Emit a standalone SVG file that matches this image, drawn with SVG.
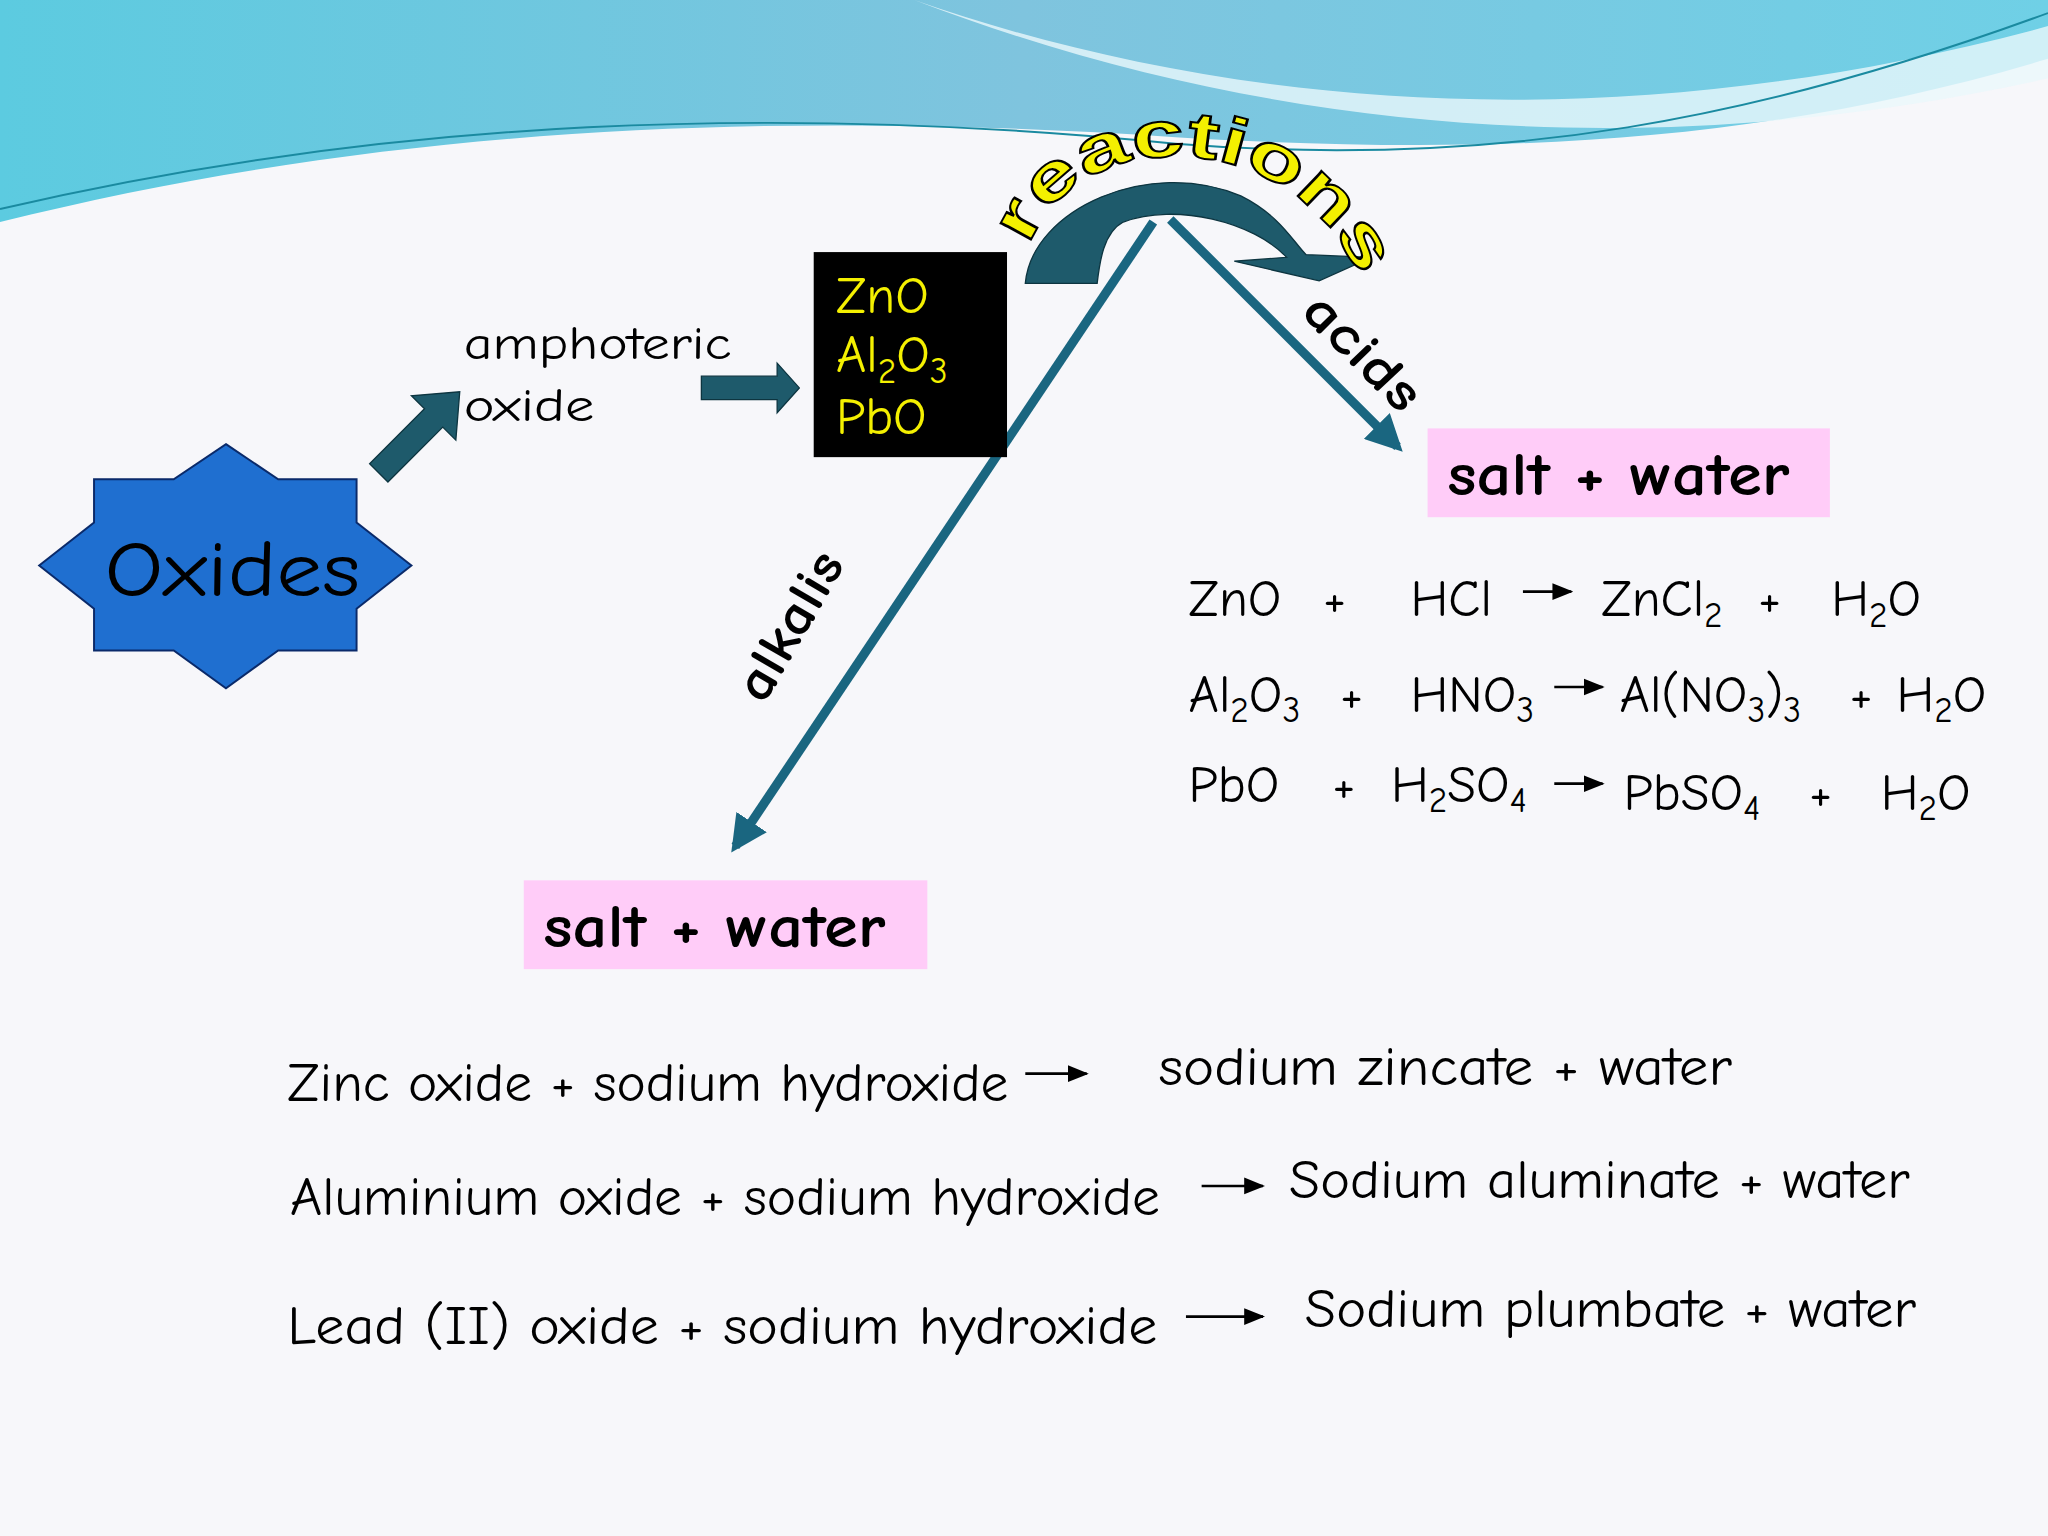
<svg xmlns="http://www.w3.org/2000/svg" width="2048" height="1536" viewBox="0 0 2048 1536">
<defs>
<linearGradient id="sky" x1="0" y1="0" x2="1" y2="0">
<stop offset="0" stop-color="#5ccbe0"/><stop offset="0.5" stop-color="#7fc4de"/><stop offset="1" stop-color="#6fd0e6"/>
</linearGradient>
<marker id="ah" viewBox="0 0 10 10" refX="8" refY="5" markerWidth="4" markerHeight="4" orient="auto"><path d="M0,0 L10,5 L0,10 Z" fill="#1a6680"/></marker>
<marker id="sa" viewBox="0 0 10 10" refX="9" refY="5" markerWidth="8" markerHeight="8" orient="auto"><path d="M0,1 L10,5 L0,9 Z" fill="#000"/></marker>
<path id="arcp" d="M788,188 C820,100 975,90 1035,200"/>
<style>
.t{font-family:"Comic Neue","Liberation Sans",sans-serif;fill:#000}
.eq{font-size:40px}
.bt{font-size:42px}
.sw{font-size:46px;font-weight:bold}
.y{fill:#f4f000;font-size:40px;font-family:"Comic Neue","Liberation Sans",sans-serif}
.s{font-size:27px}
</style>
</defs>
<g transform="scale(1.30612)">
<rect width="1568" height="1176" fill="#f7f7fa"/>
<path d="M0,0 H1568 V45 C1350,110 1150,120 900,105 C600,85 300,95 0,170 Z" fill="url(#sky)"/>
<path d="M700,0 C900,70 1200,120 1568,20 V60 C1300,120 1000,115 700,0 Z" fill="#eaf7fb" opacity="0.8"/>
<path d="M0,160 C300,90 600,80 900,110 C1150,130 1350,90 1568,10" fill="none" stroke="#1a8aa0" stroke-width="1.5"/>
<g id="oxides">
<polygon points="173,340 213,367 273,367 273,400 315,433 273,466 273,498 213,498 173,527 133,498 72,498 72,466 30,433 72,400 72,367 133,367" fill="#1f6fd0" stroke="#0a2a6a" stroke-width="1.5"/>
<text class="t" x="80" y="456" font-size="60" textLength="196" lengthAdjust="spacingAndGlyphs">Oxides</text>
</g>
<g id="connectors">
<polygon points="283,355 325,313 315,303 352,300 349,337 339,327 297,369" fill="#1e5a6b" stroke="#0d3540"/>
<polygon points="537,288 595,288 595,278 612,297 595,316 595,306 537,306" fill="#1e5a6b" stroke="#0d3540"/>
<line x1="883" y1="170" x2="563" y2="648" stroke="#1a6680" stroke-width="7" marker-end="url(#ah)"/>
<line x1="896" y1="168" x2="1070" y2="342" stroke="#1a6680" stroke-width="7" marker-end="url(#ah)"/>
<path d="M785,217 C790,160 880,120 950,150 C980,165 990,185 1000,195 L1050,197 L1010,215 L945,200 L985,197 C960,170 900,155 860,170 C845,178 842,200 840,217 Z" fill="#1e5a6b" stroke="#0d3540"/>
<path d="M785,822 H832" stroke="#000" stroke-width="2" marker-end="url(#sa)"/>
<path d="M920,908 H967" stroke="#000" stroke-width="2" marker-end="url(#sa)"/>
<path d="M908,1008 H967" stroke="#000" stroke-width="2" marker-end="url(#sa)"/>
<path d="M1166,453 H1203" stroke="#000" stroke-width="2" marker-end="url(#sa)"/>
<path d="M1190,526 H1227" stroke="#000" stroke-width="2" marker-end="url(#sa)"/>
<path d="M1190,600 H1227" stroke="#000" stroke-width="2" marker-end="url(#sa)"/>
</g>
<text font-family="Liberation Sans,sans-serif" font-weight="bold" font-size="50" fill="#f4f000" stroke="#000" stroke-width="1.5"><textPath href="#arcp" textLength="318" lengthAdjust="spacingAndGlyphs">reactions</textPath></text>
<g id="amph"><text class="t" x="355" y="275" font-size="36" textLength="205" lengthAdjust="spacingAndGlyphs">amphoteric</text><text class="t" x="355" y="322" font-size="36" textLength="100" lengthAdjust="spacingAndGlyphs">oxide</text></g>
<g id="box">
<rect x="623" y="193" width="148" height="157" fill="#000"/>
<text class="y" x="640" y="240">ZnO</text>
<text class="y" x="640" y="285">Al<tspan class="s" dy="8">2</tspan><tspan dy="-8">O</tspan><tspan class="s" dy="8">3</tspan></text>
<text class="y" x="640" y="332">PbO</text>
</g>
<text class="t" font-size="42" font-weight="bold" transform="translate(995,240) rotate(45)" textLength="110" lengthAdjust="spacingAndGlyphs">acids</text>
<text class="t" font-size="42" font-weight="bold" transform="translate(585,540) rotate(-60)" textLength="125" lengthAdjust="spacingAndGlyphs">alkalis</text>
<g id="sw1"><rect x="1093" y="328" width="308" height="68" fill="#ffccf8"/><text class="t sw" x="1108" y="379" textLength="262" lengthAdjust="spacingAndGlyphs">salt + water</text></g>
<g id="sw2"><rect x="401" y="674" width="309" height="68" fill="#ffccf8"/><text class="t sw" x="416" y="725" textLength="262" lengthAdjust="spacingAndGlyphs">salt + water</text></g>
<g id="eqs">
<text class="t eq" x="910" y="472">ZnO</text><text class="t eq" x="1013" y="472">+</text><text class="t eq" x="1080" y="472">HCl</text>
<text class="t eq" x="1226" y="472">ZnCl<tspan class="s" dy="8">2</tspan></text><text class="t eq" x="1346" y="472">+</text><text class="t eq" x="1402" y="472">H<tspan class="s" dy="8">2</tspan><tspan dy="-8">O</tspan></text>
<text class="t eq" x="910" y="545">Al<tspan class="s" dy="8">2</tspan><tspan dy="-8">O</tspan><tspan class="s" dy="8">3</tspan></text><text class="t eq" x="1026" y="545">+</text>
<text class="t eq" x="1080" y="545">HNO<tspan class="s" dy="8">3</tspan></text>
<text class="t eq" x="1240" y="545">Al(NO<tspan class="s" dy="8">3</tspan><tspan dy="-8">)</tspan><tspan class="s" dy="8">3</tspan></text><text class="t eq" x="1416" y="545">+</text><text class="t eq" x="1452" y="545">H<tspan class="s" dy="8">2</tspan><tspan dy="-8">O</tspan></text>
<text class="t eq" x="910" y="614">PbO</text><text class="t eq" x="1020" y="614">+</text><text class="t eq" x="1065" y="614">H<tspan class="s" dy="8">2</tspan><tspan dy="-8">SO</tspan><tspan class="s" dy="8">4</tspan></text>
<text class="t eq" x="1243" y="620">PbSO<tspan class="s" dy="8">4</tspan></text><text class="t eq" x="1385" y="620">+</text><text class="t eq" x="1440" y="620">H<tspan class="s" dy="8">2</tspan><tspan dy="-8">O</tspan></text>
</g>
<g id="bottom">
<text class="t bt" x="220" y="843" textLength="552" lengthAdjust="spacingAndGlyphs">Zinc oxide + sodium hydroxide</text>
<text class="t bt" x="887" y="831" textLength="439" lengthAdjust="spacingAndGlyphs">sodium zincate  +  water</text>
<text class="t bt" x="222" y="930" textLength="666" lengthAdjust="spacingAndGlyphs">Aluminium oxide  + sodium hydroxide</text>
<text class="t bt" x="987" y="917" textLength="475" lengthAdjust="spacingAndGlyphs">Sodium aluminate  + water</text>
<text class="t bt" x="220" y="1029" textLength="666" lengthAdjust="spacingAndGlyphs">Lead (II)  oxide  + sodium hydroxide</text>
<text class="t bt" x="999" y="1016" textLength="468" lengthAdjust="spacingAndGlyphs">Sodium plumbate  + water</text>
</g>
</g>
</svg>
